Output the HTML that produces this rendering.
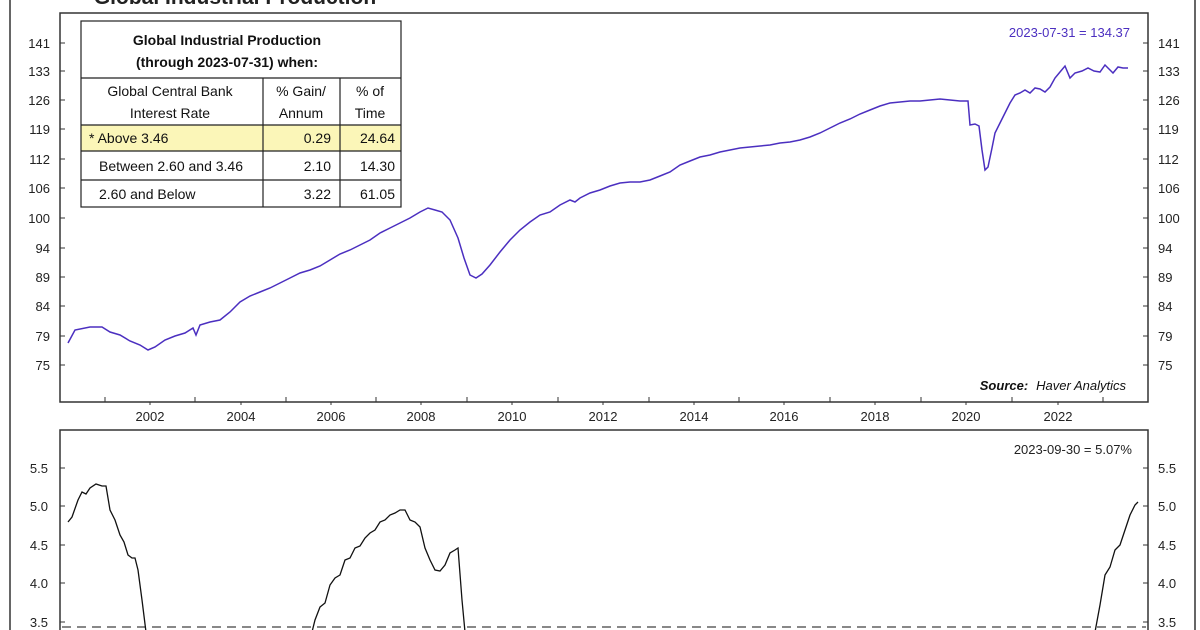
<!DOCTYPE html>
<html><head><meta charset="utf-8"><style>
body{margin:0;background:#fff;}
svg{display:block;font-family:"Liberation Sans",sans-serif;}
</style></head><body>
<svg width="1200" height="630" viewBox="0 0 1200 630" xmlns="http://www.w3.org/2000/svg">
<rect width="1200" height="630" fill="#fff"/>
<line x1="10" y1="0" x2="10" y2="630" stroke="#333" stroke-width="1.5"/>
<line x1="1195" y1="0" x2="1195" y2="630" stroke="#333" stroke-width="1.5"/>
<text x="235" y="4" font-size="21" font-weight="bold" text-anchor="middle" fill="#222">Global Industrial Production</text>
<!-- top panel -->
<rect x="60" y="13" width="1088" height="389" fill="none" stroke="#333" stroke-width="1.5"/>
<g font-size="13" fill="#222">
<g text-anchor="end">
<text x="50" y="48">141</text><text x="50" y="76">133</text><text x="50" y="105">126</text><text x="50" y="134">119</text><text x="50" y="164">112</text><text x="50" y="193">106</text><text x="50" y="223">100</text><text x="50" y="253">94</text><text x="50" y="282">89</text><text x="50" y="311">84</text><text x="50" y="341">79</text><text x="50" y="370">75</text>
</g>
<g>
<text x="1158" y="48">141</text><text x="1158" y="76">133</text><text x="1158" y="105">126</text><text x="1158" y="134">119</text><text x="1158" y="164">112</text><text x="1158" y="193">106</text><text x="1158" y="223">100</text><text x="1158" y="253">94</text><text x="1158" y="282">89</text><text x="1158" y="311">84</text><text x="1158" y="341">79</text><text x="1158" y="370">75</text>
</g>
</g>
<g stroke="#333" stroke-width="1">
<path d="M60 43h5M60 71h5M60 100h5M60 129h5M60 159h5M60 188h5M60 218h5M60 248h5M60 277h5M60 306h5M60 336h5M60 365h5"/>
<path d="M1143 43h5M1143 71h5M1143 100h5M1143 129h5M1143 159h5M1143 188h5M1143 218h5M1143 248h5M1143 277h5M1143 306h5M1143 336h5M1143 365h5"/>
<path d="M105 402v-5M195 402v-5M286 402v-5M376 402v-5M467 402v-5M558 402v-5M649 402v-5M739 402v-5M830 402v-5M921 402v-5M1012 402v-5M1103 402v-5"/>
<path d="M150 402v3M241 402v3M331 402v3M421 402v3M512 402v3M603 402v3M694 402v3M784 402v3M875 402v3M966 402v3M1058 402v3"/>
</g>
<g font-size="13" fill="#222" text-anchor="middle">
<text x="150" y="421">2002</text><text x="241" y="421">2004</text><text x="331" y="421">2006</text><text x="421" y="421">2008</text><text x="512" y="421">2010</text><text x="603" y="421">2012</text><text x="694" y="421">2014</text><text x="784" y="421">2016</text><text x="875" y="421">2018</text><text x="966" y="421">2020</text><text x="1058" y="421">2022</text>
</g>
<text x="1130" y="37" font-size="13" fill="#4b2fc0" text-anchor="end">2023-07-31 = 134.37</text>
<text x="1126" y="390" font-size="13" text-anchor="end" fill="#111"><tspan font-weight="bold" font-style="italic">Source:</tspan><tspan font-style="italic" dx="8">Haver Analytics</tspan></text>
<polyline fill="none" stroke="#4b2fc0" stroke-width="1.5" points="68,343 75,330 90,327 102,327 110,332 120,335 130,341 140,345 148,350 155,347 165,340 175,336 185,333 193,328 196,335 200,325 210,322 220,320 230,312 240,302 250,296 260,292 270,288 280,283 290,278 300,273 310,270 320,266 330,260 340,254 350,250 360,245 370,240 380,233 390,228 400,223 410,218 420,212 428,208 435,210 442,212 450,220 458,238 464,258 470,275 476,278 482,274 490,265 500,252 510,240 520,230 530,222 540,215 550,212 560,205 570,200 575,202 580,198 590,193 600,190 610,186 620,183 630,182 640,182 650,180 660,176 670,172 680,165 690,161 700,157 710,155 720,152 730,150 740,148 750,147 760,146 770,145 780,143 790,142 800,140 810,137 820,133 830,128 840,123 850,119 860,114 870,110 880,106 890,103 900,102 910,101 920,101 930,100 940,99 950,100 960,101 968,101 970,125 975,124 979,126 982,150 985,170 988,167 992,148 995,133 1000,123 1005,113 1010,103 1015,95 1020,93 1025,90 1030,93 1035,88 1040,89 1045,92 1050,87 1055,78 1060,72 1065,66 1070,78 1075,73 1082,71 1088,68 1094,71 1100,72 1105,65 1110,70 1113,73 1118,67 1123,68 1128,68"/>
<!-- table -->
<g stroke="#222" stroke-width="1.2" fill="none">
<rect x="81" y="125" width="320" height="26" fill="#fbf6b8" stroke="none"/>
<rect x="81" y="21" width="320" height="186"/>
<path d="M81 78H401M81 125H401M81 151H401M81 180H401M263 78V207M340 78V207"/>
</g>
<g font-size="14" fill="#111">
<text x="227" y="45" font-weight="bold" text-anchor="middle">Global Industrial Production</text>
<text x="227" y="67" font-weight="bold" text-anchor="middle">(through 2023-07-31) when:</text>
<text x="170" y="96" text-anchor="middle">Global Central Bank</text>
<text x="170" y="118" text-anchor="middle">Interest Rate</text>
<text x="301" y="96" text-anchor="middle">% Gain/</text>
<text x="301" y="118" text-anchor="middle">Annum</text>
<text x="370" y="96" text-anchor="middle">% of</text>
<text x="370" y="118" text-anchor="middle">Time</text>
<text x="89" y="143">* Above 3.46</text>
<text x="99" y="171">Between 2.60 and 3.46</text>
<text x="99" y="199">2.60 and Below</text>
<g text-anchor="end">
<text x="331" y="143">0.29</text><text x="331" y="171">2.10</text><text x="331" y="199">3.22</text>
<text x="395" y="143">24.64</text><text x="395" y="171">14.30</text><text x="395" y="199">61.05</text>
</g>
</g>
<!-- bottom panel -->
<path d="M60 640V430H1148V640" fill="none" stroke="#333" stroke-width="1.5"/>
<g font-size="13" fill="#222">
<g text-anchor="end"><text x="48" y="473">5.5</text><text x="48" y="511">5.0</text><text x="48" y="550">4.5</text><text x="48" y="588">4.0</text><text x="48" y="627">3.5</text></g>
<g><text x="1158" y="473">5.5</text><text x="1158" y="511">5.0</text><text x="1158" y="550">4.5</text><text x="1158" y="588">4.0</text><text x="1158" y="627">3.5</text></g>
</g>
<g stroke="#333"><path d="M60 468h5M60 506h5M60 545h5M60 583h5M60 622h5M1143 468h5M1143 506h5M1143 545h5M1143 583h5M1143 622h5"/></g>
<text x="1132" y="454" font-size="13" fill="#222" text-anchor="end">2023-09-30 = 5.07%</text>
<line x1="62" y1="627" x2="1146" y2="627" stroke="#777" stroke-width="1.8" stroke-dasharray="9,6"/>
<g fill="none" stroke="#111" stroke-width="1.3">
<polyline points="68,522 72,517 78,500 82,492 86,494 90,488 96,484 102,486 106,486 110,510 115,520 120,535 124,542 128,555 132,558 135,558 138,570 142,600 146,632"/>
<polyline points="312,632 315,620 320,607 325,603 330,585 335,578 340,575 345,560 350,558 355,548 360,546 365,538 370,533 375,530 380,522 385,520 390,515 395,513 400,510 405,510 410,520 415,522 420,527 425,548 430,560 435,570 440,571 445,565 450,553 455,550 458,548 462,600 465,632"/>
<polyline points="1095,632 1100,605 1105,575 1110,567 1115,550 1120,545 1125,530 1130,515 1135,505 1138,502"/>
</g>
</svg>
</body></html>
